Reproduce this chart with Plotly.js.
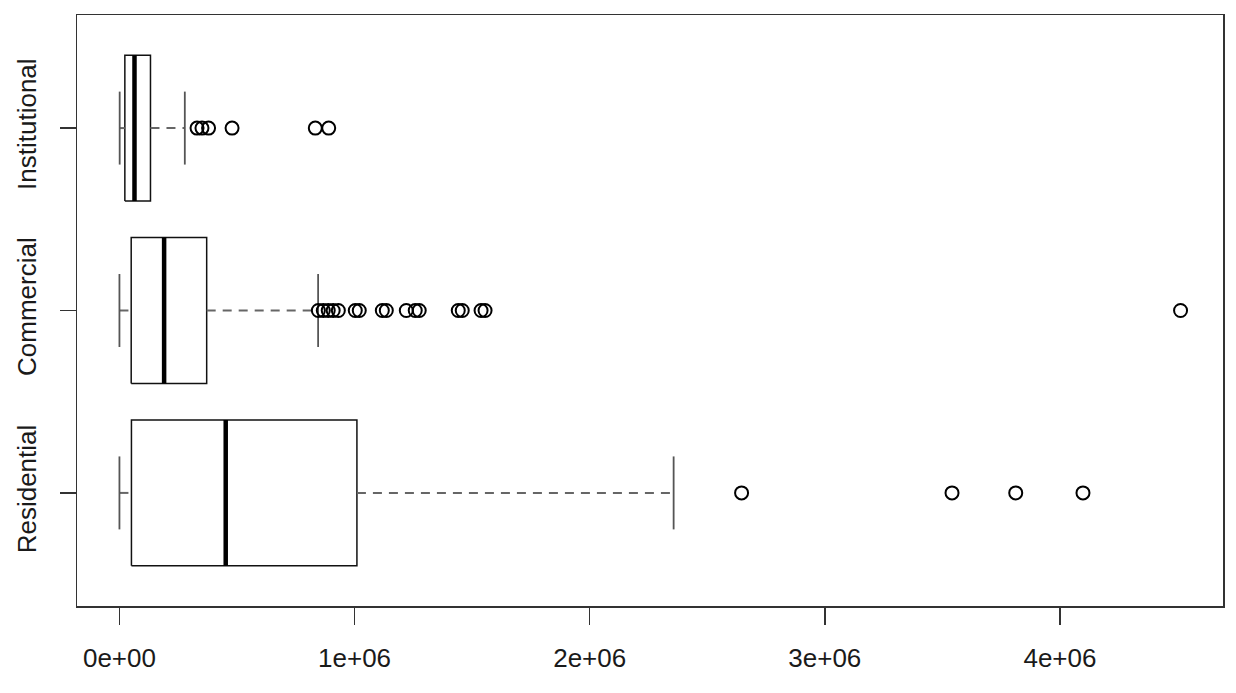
<!doctype html>
<html lang="en">
<head>
    <meta charset="UTF-8">
    <title>Boxplot by building type</title>
    <script src="https://cdn.plot.ly/plotly-3.0.1.min.js"></script>
    <style>
        html, body { margin: 0; padding: 0; background: #fff; }
        #chart { width: 1236px; height: 693px; }
    </style>
</head>
<body>
    <div id="chart"></div>
    <script>
        // five-number summaries (bottom to top)
        var categories = ["Residential", "Commercial", "Institutional"];
        var lowerWhisker = [0, 0, 1000];
        var q1 = [51000, 50000, 23000];
        var median = [452000, 190000, 64000];
        var q3 = [1010000, 371000, 132000];
        var upperWhisker = [2357000, 845000, 278000];

        var residentialOutliers = [2646000, 3541000, 3812000, 4098000];
        var commercialOutliers = [846000, 867000, 888000, 909000, 931000, 1003000, 1020000,
            1118000, 1135000, 1220000, 1258000, 1275000, 1441000, 1458000, 1538000, 1555000, 4513000];
        var institutionalOutliers = [330000, 351000, 379000, 479000, 833000, 890000];
        var outliers = [residentialOutliers, commercialOutliers, institutionalOutliers];

        var tickVals = [0, 1e6, 2e6, 3e6, 4e6];
        var tickText = ["0e+00", "1e+06", "2e+06", "3e+06", "4e+06"];

        var boxHalf = 0.4, capHalf = 0.2;
        var traces = [];

        categories.forEach(function (name, i) {
            var y = i + 1;
            // box outline
            traces.push({
                x: [q1[i], q3[i], q3[i], q1[i], q1[i]],
                y: [y - boxHalf, y - boxHalf, y + boxHalf, y + boxHalf, y - boxHalf],
                mode: 'lines', line: { color: '#111', width: 1.5 }, hoverinfo: 'skip'
            });
            // median
            traces.push({
                x: [median[i], median[i]], y: [y - boxHalf, y + boxHalf],
                mode: 'lines', line: { color: '#000', width: 4.5 }, hoverinfo: 'skip'
            });
            // dashed whiskers
            traces.push({
                x: [lowerWhisker[i], q1[i], null, q3[i], upperWhisker[i]],
                y: [y, y, null, y, y],
                mode: 'lines', line: { color: '#666', width: 2, dash: '9px,7px' }, hoverinfo: 'skip'
            });
            // staples
            traces.push({
                x: [lowerWhisker[i], lowerWhisker[i], null, upperWhisker[i], upperWhisker[i]],
                y: [y - capHalf, y + capHalf, null, y - capHalf, y + capHalf],
                mode: 'lines', line: { color: '#555', width: 1.8 }, hoverinfo: 'skip'
            });
            // outliers
            traces.push({
                x: outliers[i], y: outliers[i].map(function () { return y; }),
                mode: 'markers', hoverinfo: 'x',
                marker: { symbol: 'circle-open', size: 13, color: '#000', line: { width: 2, color: '#000' } }
            });
        });

        // R style axis limits: data range padded by 4%
        var allVals = lowerWhisker.concat(upperWhisker, residentialOutliers, commercialOutliers, institutionalOutliers);
        var xmin = Math.min.apply(null, allVals), xmax = Math.max.apply(null, allVals);
        var pad = (xmax - xmin) * 0.04;

        var layout = {
            width: 1236, height: 693,
            margin: { l: 77, r: 13, t: 15, b: 87 },
            paper_bgcolor: '#fff', plot_bgcolor: '#fff',
            showlegend: false,
            font: { family: 'Liberation Sans, Arial, sans-serif', size: 26, color: '#1a1a1a' },
            xaxis: {
                range: [xmin - pad, xmax + pad],
                tickvals: tickVals, ticktext: tickText,
                ticks: 'outside', ticklen: 17, tickwidth: 1.5, tickcolor: '#333',
                ticklabelstandoff: 11,
                showgrid: false, zeroline: false,
                showline: true, linecolor: '#333', linewidth: 1.5, mirror: true
            },
            yaxis: {
                range: [0.38, 3.62],
                tickvals: [1, 2, 3], ticktext: categories, tickangle: -90,
                ticks: 'outside', ticklen: 16, tickwidth: 1.5, tickcolor: '#333',
                ticklabelstandoff: 13,
                showgrid: false, zeroline: false,
                showline: true, linecolor: '#333', linewidth: 1.5, mirror: true
            }
        };

        Plotly.newPlot('chart', traces, layout, { displayModeBar: false, staticPlot: true });
    </script>
</body>
</html>
